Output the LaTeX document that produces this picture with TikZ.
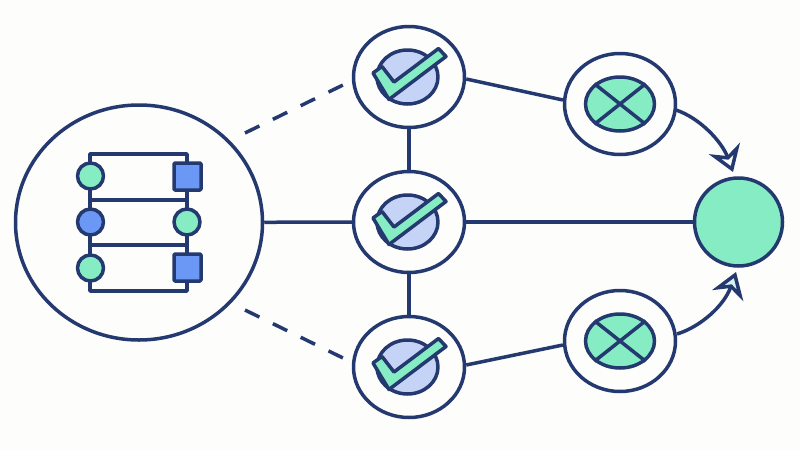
\documentclass[tikz,border=0pt]{standalone}
\usetikzlibrary{shapes.geometric,arrows.meta,calc}
\definecolor{navy}{HTML}{24396F}
\definecolor{mint}{HTML}{86ECC3}
\definecolor{bluefill}{HTML}{6B97F5}
\definecolor{pale}{HTML}{C5D3F7}
\definecolor{bgc}{HTML}{FDFDFB}
\definecolor{tipfill}{HTML}{D5F3F3}
\tikzset{
  lw/.style={draw=navy,line width=3.5pt,line join=round},
  ring/.style={lw,ellipse,fill=bgc,inner sep=0pt,minimum width=111pt,minimum height=101pt},
  disc/.style={lw,circle,fill=mint,inner sep=0pt,minimum size=26pt},
  sq/.style={lw,rectangle,rounded corners=1pt,fill=bluefill,inner sep=0pt,minimum size=27pt},
  palee/.style={lw,ellipse,fill=pale,inner sep=0pt,minimum width=61pt,minimum height=54pt},
  minte/.style={lw,ellipse,fill=mint,inner sep=0pt,minimum width=69pt,minimum height=54pt},
  conn/.style={lw},
  dash conn/.style={lw,dash pattern=on 16pt off 15pt},
  checkmark/.style={lw,fill=mint},
}
\newcommand{\checkat}[2]{%
  \node[palee] (#1e) at ($(#2)+(-1.5,0)$) {};
  \draw[checkmark] ($(#2)+(-36,-4)$) -- ($(#2)+(-27,-10.5)$) -- ($(#2)+(-15,5)$) -- ($(#2)+(29.5,-28.5)$) -- ($(#2)+(37,-20.5)$) -- ($(#2)+(-20,22.5)$) -- cycle;
}
\newcommand{\crossat}[2]{%
  \node[minte] (#1) at (#2) {};
  \draw[conn] (#1.north west) -- (#1.south east);
  \draw[conn] (#1.north east) -- (#1.south west);
}
\begin{document}
\begin{tikzpicture}[x=1pt,y=-1pt]
\path[fill=bgc] (0,0) rectangle (800,450);
\useasboundingbox (0,0) rectangle (800,450);
% main nodes
\node[lw,ellipse,fill=bgc,inner sep=0pt,minimum width=247pt,minimum height=235pt] (hub) at (139,222.5) {};
\node[ring] (top) at (409,77) {};
\node[ring] (mid) at (409,222) {};
\node[ring] (bot) at (409,367) {};
\node[ring] (rt) at (620,104) {};
\node[ring] (rb) at (620,341) {};
\node[lw,circle,fill=mint,inner sep=0pt,minimum size=88pt] (goal) at (738.5,222) {};
% connectors
\draw[conn] (hub) -- (mid);
\draw[conn] (mid) -- (goal);
\draw[conn] (top) -- (mid);
\draw[conn] (mid) -- (bot);
\draw[conn] (top.-2) -- (rt.176);
\draw[conn] (bot.2) -- (rb.184);
\coordinate (d1a) at (245,133);
\coordinate (d1b) at (343,85);
\coordinate (d2a) at (245,310);
\coordinate (d2b) at (343,358);
\draw[dash conn] (d1a) -- (d1b);
\draw[dash conn] (d2a) -- (d2b);
% curved arrows
\coordinate (a1) at (676,110);
\coordinate (a1t) at (733,172);
\coordinate (a2) at (677,334);
\coordinate (a2t) at (736,272);
\draw[conn,-{Stealth[length=25pt,width=33pt,inset=8pt,fill=bgc,line width=3.5pt]}] (a1) .. controls (700,118) and (722,142) .. (a1t);
\draw[conn,-{Stealth[length=25pt,width=33pt,inset=8pt,fill=tipfill,line width=3.5pt]}] (a2) .. controls (700,327) and (724,306) .. (a2t);
% server
\coordinate (s1) at (90,154);
\coordinate (s2) at (187,154);
\coordinate (s3) at (187,291);
\coordinate (s4) at (90,291);
\coordinate (m1) at (90,200);
\coordinate (m2) at (187,200);
\coordinate (m3) at (90,245);
\coordinate (m4) at (187,245);
\draw[conn] (s1) -- (s2) -- (s3) -- (s4) -- cycle;
\draw[conn] (m1) -- (m2);
\draw[conn] (m3) -- (m4);
\node[disc] (c1) at (90.5,176) {};
\node[disc,fill=bluefill] (c2) at (90.5,222) {};
\node[disc] (c3) at (90.5,268) {};
\node[disc] (c4) at (187,222) {};
\node[sq] (q1) at (187.5,176.5) {};
\node[sq] (q2) at (187.5,267.5) {};
% check marks
\coordinate (k1) at (409,77);
\coordinate (k2) at (409,222);
\coordinate (k3) at (409,367);
\checkat{ka}{k1}
\checkat{kb}{k2}
\checkat{kc}{k3}
% crossed ellipses
\coordinate (x1) at (620,104);
\coordinate (x2) at (620,341);
\crossat{xa}{x1}
\crossat{xb}{x2}
\end{tikzpicture}
\end{document}
